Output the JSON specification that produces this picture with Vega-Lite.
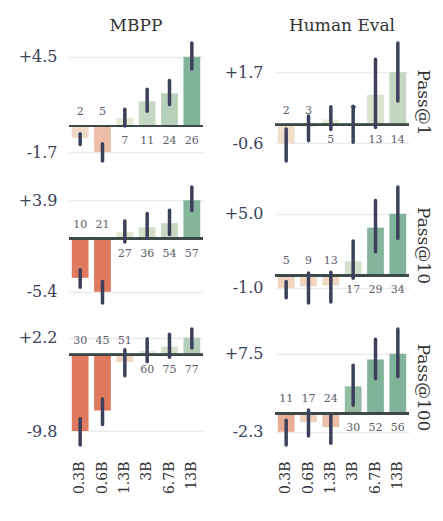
{
  "$schema": "https://vega.github.io/schema/vega-lite/v6.json",
  "background": "white",
  "padding": {"left": 18, "top": 17, "right": 8, "bottom": 10},
  "config": {
    "font": "DejaVu Serif",
    "view": {"stroke": null},
    "title": {"font": "DejaVu Serif", "fontSize": 17, "fontWeight": "normal", "color": "#333333", "offset": 6},
    "axisY": {
      "domain": false, "ticks": false, "grid": true, "gridColor": "#ebebeb", "gridWidth": 1.3,
      "labelFont": "DejaVu Serif", "labelFontSize": 16, "labelColor": "#3d405b", "labelPadding": 12,
      "titleFont": "DejaVu Serif", "titleFontSize": 17, "titleFontWeight": "normal", "titleColor": "#333333",
      "labelExpr": "datum.value > 0 ? '+' + format(datum.value, '.1f') : '-' + format(abs(datum.value), '.1f')"
    },
    "axisX": {
      "domain": false, "ticks": false, "grid": false,
      "labelFont": "DejaVu Serif", "labelAngle": -90, "labelFontSize": 14, "labelColor": "#333333", "labelPadding": 16
    }
  },
  "data": {
    "values": [
      {"b": "MBPP", "k": "Pass@1", "s": "0.3B", "v": -0.77, "lo": -1.2, "hi": -0.51, "n": 2},
      {"b": "MBPP", "k": "Pass@1", "s": "0.6B", "v": -1.7, "lo": -2.28, "hi": -1.16, "n": 5},
      {"b": "MBPP", "k": "Pass@1", "s": "1.3B", "v": 0.51, "lo": 0.0, "hi": 1.08, "n": 7},
      {"b": "MBPP", "k": "Pass@1", "s": "3B", "v": 1.6, "lo": 0.95, "hi": 2.38, "n": 11},
      {"b": "MBPP", "k": "Pass@1", "s": "6.7B", "v": 2.12, "lo": 1.4, "hi": 2.96, "n": 24},
      {"b": "MBPP", "k": "Pass@1", "s": "13B", "v": 4.5, "lo": 3.7, "hi": 5.39, "n": 26},
      {"b": "MBPP", "k": "Pass@10", "s": "0.3B", "v": -3.99, "lo": -4.96, "hi": -3.18, "n": 10},
      {"b": "MBPP", "k": "Pass@10", "s": "0.6B", "v": -5.4, "lo": -6.55, "hi": -4.36, "n": 21},
      {"b": "MBPP", "k": "Pass@10", "s": "1.3B", "v": 0.66, "lo": -0.35, "hi": 1.78, "n": 27},
      {"b": "MBPP", "k": "Pass@10", "s": "3B", "v": 1.17, "lo": 0.02, "hi": 2.55, "n": 36},
      {"b": "MBPP", "k": "Pass@10", "s": "6.7B", "v": 1.57, "lo": 0.43, "hi": 2.89, "n": 54},
      {"b": "MBPP", "k": "Pass@10", "s": "13B", "v": 3.9, "lo": 2.85, "hi": 5.25, "n": 57},
      {"b": "MBPP", "k": "Pass@100", "s": "0.3B", "v": -9.8, "lo": -11.59, "hi": -8.23, "n": 30},
      {"b": "MBPP", "k": "Pass@100", "s": "0.6B", "v": -7.16, "lo": -8.95, "hi": -5.67, "n": 45},
      {"b": "MBPP", "k": "Pass@100", "s": "1.3B", "v": -0.91, "lo": -2.69, "hi": 0.63, "n": 51},
      {"b": "MBPP", "k": "Pass@100", "s": "3B", "v": 0.5, "lo": -0.91, "hi": 2.07, "n": 60},
      {"b": "MBPP", "k": "Pass@100", "s": "6.7B", "v": 1.05, "lo": -0.31, "hi": 2.63, "n": 75},
      {"b": "MBPP", "k": "Pass@100", "s": "13B", "v": 2.2, "lo": 0.88, "hi": 3.31, "n": 77},
      {"b": "HE", "k": "Pass@1", "s": "0.3B", "v": -0.6, "lo": -1.18, "hi": -0.14, "n": 2},
      {"b": "HE", "k": "Pass@1", "s": "0.6B", "v": -0.09, "lo": -0.52, "hi": 0.28, "n": 3},
      {"b": "HE", "k": "Pass@1", "s": "1.3B", "v": 0.17, "lo": -0.16, "hi": 0.58, "n": 5},
      {"b": "HE", "k": "Pass@1", "s": "3B", "v": -0.02, "lo": -0.57, "hi": 0.6, "n": 7},
      {"b": "HE", "k": "Pass@1", "s": "6.7B", "v": 0.97, "lo": -0.09, "hi": 2.12, "n": 13},
      {"b": "HE", "k": "Pass@1", "s": "13B", "v": 1.7, "lo": 0.77, "hi": 2.65, "n": 14},
      {"b": "HE", "k": "Pass@10", "s": "0.3B", "v": -1.0, "lo": -1.8, "hi": -0.49, "n": 5},
      {"b": "HE", "k": "Pass@10", "s": "0.6B", "v": -0.87, "lo": -2.23, "hi": 0.21, "n": 9},
      {"b": "HE", "k": "Pass@10", "s": "1.3B", "v": -0.81, "lo": -2.15, "hi": 0.26, "n": 13},
      {"b": "HE", "k": "Pass@10", "s": "3B", "v": 1.14, "lo": -0.22, "hi": 2.8, "n": 17},
      {"b": "HE", "k": "Pass@10", "s": "6.7B", "v": 3.88, "lo": 1.92, "hi": 6.07, "n": 29},
      {"b": "HE", "k": "Pass@10", "s": "13B", "v": 5.0, "lo": 2.99, "hi": 7.17, "n": 34},
      {"b": "HE", "k": "Pass@100", "s": "0.3B", "v": -2.3, "lo": -3.97, "hi": -0.84, "n": 11},
      {"b": "HE", "k": "Pass@100", "s": "0.6B", "v": -1.09, "lo": -2.84, "hi": 0.45, "n": 17},
      {"b": "HE", "k": "Pass@100", "s": "1.3B", "v": -1.72, "lo": -3.76, "hi": -0.22, "n": 24},
      {"b": "HE", "k": "Pass@100", "s": "3B", "v": 3.41, "lo": 1.03, "hi": 6.08, "n": 30},
      {"b": "HE", "k": "Pass@100", "s": "6.7B", "v": 6.79, "lo": 4.37, "hi": 9.33, "n": 52},
      {"b": "HE", "k": "Pass@100", "s": "13B", "v": 7.5, "lo": 4.66, "hi": 10.63, "n": 56}
    ]
  },
  "spacing": 22,
  "vconcat": [
    {
      "spacing": 20,
      "resolve": {"scale": {"y": "independent", "x": "independent"}},
      "hconcat": [
        {
          "title": "MBPP", "width": 134, "height": 118,
          "transform": [{"filter": "datum.b == 'MBPP' && datum.k == 'Pass@1'"}],
          "layer": [
            {"mark": "bar", "encoding": {
              "x": {"field": "s", "type": "nominal", "sort": ["0.3B", "0.6B", "1.3B", "3B", "6.7B", "13B"], "scale": {"paddingInner": 0.25, "paddingOuter": 0.125}, "axis": null},
              "y": {"field": "v", "type": "quantitative", "title": null, "scale": {"nice": false, "zero": true}, "axis": {"values": [-1.7, 4.5]}},
              "color": {"field": "v", "type": "quantitative", "scale": {"domain": [-4, 0, 4], "range": ["#e07a5f", "#f4f1de", "#81b29a"], "interpolate": "rgb", "clamp": true}, "legend": null}}},
            {"transform": [{"filter": "datum.v >= 0"}], "mark": {"type": "text", "baseline": "top", "dy": 9, "fontSize": 11, "color": "#5c5c6a"}, "encoding": {
              "x": {"field": "s", "type": "nominal", "sort": ["0.3B", "0.6B", "1.3B", "3B", "6.7B", "13B"]},
              "y": {"datum": 0, "type": "quantitative", "title": null}, "text": {"field": "n"}}},
            {"transform": [{"filter": "datum.v < 0"}], "mark": {"type": "text", "baseline": "bottom", "dy": -9, "fontSize": 11, "color": "#5c5c6a"}, "encoding": {
              "x": {"field": "s", "type": "nominal", "sort": ["0.3B", "0.6B", "1.3B", "3B", "6.7B", "13B"]},
              "y": {"datum": 0, "type": "quantitative", "title": null}, "text": {"field": "n"}}},
            {"mark": {"type": "rule", "color": "#3d4848", "strokeWidth": 2}, "encoding": {"y": {"datum": 0, "type": "quantitative", "title": null}}},
            {"mark": {"type": "rule", "color": "#3d405b", "strokeWidth": 3.5, "strokeCap": "round"}, "encoding": {
              "x": {"field": "s", "type": "nominal", "sort": ["0.3B", "0.6B", "1.3B", "3B", "6.7B", "13B"]},
              "y": {"field": "lo", "type": "quantitative", "title": null}, "y2": {"field": "hi"}}}
          ]
        },
        {
          "title": "Human Eval", "width": 134, "height": 118,
          "transform": [{"filter": "datum.b == 'HE' && datum.k == 'Pass@1'"}],
          "resolve": {"axis": {"y": "independent"}},
          "layer": [
            {"mark": "bar", "encoding": {
              "x": {"field": "s", "type": "nominal", "sort": ["0.3B", "0.6B", "1.3B", "3B", "6.7B", "13B"], "scale": {"paddingInner": 0.25, "paddingOuter": 0.125}, "axis": null},
              "y": {"field": "v", "type": "quantitative", "title": null, "scale": {"nice": false, "zero": true}, "axis": {"values": [-0.6, 1.7]}},
              "color": {"field": "v", "type": "quantitative", "scale": {"domain": [-4, 0, 4], "range": ["#e07a5f", "#f4f1de", "#81b29a"], "interpolate": "rgb", "clamp": true}, "legend": null}}},
            {"transform": [{"filter": "datum.v >= 0"}], "mark": {"type": "text", "baseline": "top", "dy": 9, "fontSize": 11, "color": "#5c5c6a"}, "encoding": {
              "x": {"field": "s", "type": "nominal", "sort": ["0.3B", "0.6B", "1.3B", "3B", "6.7B", "13B"]},
              "y": {"datum": 0, "type": "quantitative", "axis": null}, "text": {"field": "n"}}},
            {"transform": [{"filter": "datum.v < 0"}], "mark": {"type": "text", "baseline": "bottom", "dy": -9, "fontSize": 11, "color": "#5c5c6a"}, "encoding": {
              "x": {"field": "s", "type": "nominal", "sort": ["0.3B", "0.6B", "1.3B", "3B", "6.7B", "13B"]},
              "y": {"datum": 0, "type": "quantitative", "axis": null}, "text": {"field": "n"}}},
            {"mark": {"type": "rule", "color": "#3d4848", "strokeWidth": 2}, "encoding": {"y": {"datum": 0, "type": "quantitative", "axis": null}}},
            {"mark": {"type": "rule", "color": "#3d405b", "strokeWidth": 3.5, "strokeCap": "round"}, "encoding": {
              "x": {"field": "s", "type": "nominal", "sort": ["0.3B", "0.6B", "1.3B", "3B", "6.7B", "13B"]},
              "y": {"field": "lo", "type": "quantitative", "title": "Pass@1", "axis": {"orient": "right", "labels": false, "grid": false, "titlePadding": 4}}, "y2": {"field": "hi"}}}
          ]
        }
      ]
    },
    {
      "spacing": 20,
      "resolve": {"scale": {"y": "independent", "x": "independent"}},
      "hconcat": [
        {
          "width": 134, "height": 116,
          "transform": [{"filter": "datum.b == 'MBPP' && datum.k == 'Pass@10'"}],
          "layer": [
            {"mark": "bar", "encoding": {
              "x": {"field": "s", "type": "nominal", "sort": ["0.3B", "0.6B", "1.3B", "3B", "6.7B", "13B"], "scale": {"paddingInner": 0.25, "paddingOuter": 0.125}, "axis": null},
              "y": {"field": "v", "type": "quantitative", "title": null, "scale": {"nice": false, "zero": true}, "axis": {"values": [-5.4, 3.9]}},
              "color": {"field": "v", "type": "quantitative", "scale": {"domain": [-4, 0, 4], "range": ["#e07a5f", "#f4f1de", "#81b29a"], "interpolate": "rgb", "clamp": true}, "legend": null}}},
            {"transform": [{"filter": "datum.v >= 0"}], "mark": {"type": "text", "baseline": "top", "dy": 9, "fontSize": 11, "color": "#5c5c6a"}, "encoding": {
              "x": {"field": "s", "type": "nominal", "sort": ["0.3B", "0.6B", "1.3B", "3B", "6.7B", "13B"]},
              "y": {"datum": 0, "type": "quantitative", "title": null}, "text": {"field": "n"}}},
            {"transform": [{"filter": "datum.v < 0"}], "mark": {"type": "text", "baseline": "bottom", "dy": -9, "fontSize": 11, "color": "#5c5c6a"}, "encoding": {
              "x": {"field": "s", "type": "nominal", "sort": ["0.3B", "0.6B", "1.3B", "3B", "6.7B", "13B"]},
              "y": {"datum": 0, "type": "quantitative", "title": null}, "text": {"field": "n"}}},
            {"mark": {"type": "rule", "color": "#3d4848", "strokeWidth": 2}, "encoding": {"y": {"datum": 0, "type": "quantitative", "title": null}}},
            {"mark": {"type": "rule", "color": "#3d405b", "strokeWidth": 3.5, "strokeCap": "round"}, "encoding": {
              "x": {"field": "s", "type": "nominal", "sort": ["0.3B", "0.6B", "1.3B", "3B", "6.7B", "13B"]},
              "y": {"field": "lo", "type": "quantitative", "title": null}, "y2": {"field": "hi"}}}
          ]
        },
        {
          "width": 134, "height": 116,
          "transform": [{"filter": "datum.b == 'HE' && datum.k == 'Pass@10'"}],
          "resolve": {"axis": {"y": "independent"}},
          "layer": [
            {"mark": "bar", "encoding": {
              "x": {"field": "s", "type": "nominal", "sort": ["0.3B", "0.6B", "1.3B", "3B", "6.7B", "13B"], "scale": {"paddingInner": 0.25, "paddingOuter": 0.125}, "axis": null},
              "y": {"field": "v", "type": "quantitative", "title": null, "scale": {"nice": false, "zero": true}, "axis": {"values": [-1.0, 5.0]}},
              "color": {"field": "v", "type": "quantitative", "scale": {"domain": [-4, 0, 4], "range": ["#e07a5f", "#f4f1de", "#81b29a"], "interpolate": "rgb", "clamp": true}, "legend": null}}},
            {"transform": [{"filter": "datum.v >= 0"}], "mark": {"type": "text", "baseline": "top", "dy": 9, "fontSize": 11, "color": "#5c5c6a"}, "encoding": {
              "x": {"field": "s", "type": "nominal", "sort": ["0.3B", "0.6B", "1.3B", "3B", "6.7B", "13B"]},
              "y": {"datum": 0, "type": "quantitative", "axis": null}, "text": {"field": "n"}}},
            {"transform": [{"filter": "datum.v < 0"}], "mark": {"type": "text", "baseline": "bottom", "dy": -9, "fontSize": 11, "color": "#5c5c6a"}, "encoding": {
              "x": {"field": "s", "type": "nominal", "sort": ["0.3B", "0.6B", "1.3B", "3B", "6.7B", "13B"]},
              "y": {"datum": 0, "type": "quantitative", "axis": null}, "text": {"field": "n"}}},
            {"mark": {"type": "rule", "color": "#3d4848", "strokeWidth": 2}, "encoding": {"y": {"datum": 0, "type": "quantitative", "axis": null}}},
            {"mark": {"type": "rule", "color": "#3d405b", "strokeWidth": 3.5, "strokeCap": "round"}, "encoding": {
              "x": {"field": "s", "type": "nominal", "sort": ["0.3B", "0.6B", "1.3B", "3B", "6.7B", "13B"]},
              "y": {"field": "lo", "type": "quantitative", "title": "Pass@10", "axis": {"orient": "right", "labels": false, "grid": false, "titlePadding": 4}}, "y2": {"field": "hi"}}}
          ]
        }
      ]
    },
    {
      "spacing": 20,
      "resolve": {"scale": {"y": "independent", "x": "independent"}},
      "hconcat": [
        {
          "width": 134, "height": 116,
          "transform": [{"filter": "datum.b == 'MBPP' && datum.k == 'Pass@100'"}],
          "layer": [
            {"mark": "bar", "encoding": {
              "x": {"field": "s", "type": "nominal", "title": null, "sort": ["0.3B", "0.6B", "1.3B", "3B", "6.7B", "13B"], "scale": {"paddingInner": 0.25, "paddingOuter": 0.125}},
              "y": {"field": "v", "type": "quantitative", "title": null, "scale": {"nice": false, "zero": true}, "axis": {"values": [-9.8, 2.2]}},
              "color": {"field": "v", "type": "quantitative", "scale": {"domain": [-4, 0, 4], "range": ["#e07a5f", "#f4f1de", "#81b29a"], "interpolate": "rgb", "clamp": true}, "legend": null}}},
            {"transform": [{"filter": "datum.v >= 0"}], "mark": {"type": "text", "baseline": "top", "dy": 9, "fontSize": 11, "color": "#5c5c6a"}, "encoding": {
              "x": {"field": "s", "type": "nominal", "title": null, "sort": ["0.3B", "0.6B", "1.3B", "3B", "6.7B", "13B"]},
              "y": {"datum": 0, "type": "quantitative", "title": null}, "text": {"field": "n"}}},
            {"transform": [{"filter": "datum.v < 0"}], "mark": {"type": "text", "baseline": "bottom", "dy": -9, "fontSize": 11, "color": "#5c5c6a"}, "encoding": {
              "x": {"field": "s", "type": "nominal", "title": null, "sort": ["0.3B", "0.6B", "1.3B", "3B", "6.7B", "13B"]},
              "y": {"datum": 0, "type": "quantitative", "title": null}, "text": {"field": "n"}}},
            {"mark": {"type": "rule", "color": "#3d4848", "strokeWidth": 2}, "encoding": {"y": {"datum": 0, "type": "quantitative", "title": null}}},
            {"mark": {"type": "rule", "color": "#3d405b", "strokeWidth": 3.5, "strokeCap": "round"}, "encoding": {
              "x": {"field": "s", "type": "nominal", "title": null, "sort": ["0.3B", "0.6B", "1.3B", "3B", "6.7B", "13B"]},
              "y": {"field": "lo", "type": "quantitative", "title": null}, "y2": {"field": "hi"}}}
          ]
        },
        {
          "width": 134, "height": 116,
          "transform": [{"filter": "datum.b == 'HE' && datum.k == 'Pass@100'"}],
          "resolve": {"axis": {"y": "independent"}},
          "layer": [
            {"mark": "bar", "encoding": {
              "x": {"field": "s", "type": "nominal", "title": null, "sort": ["0.3B", "0.6B", "1.3B", "3B", "6.7B", "13B"], "scale": {"paddingInner": 0.25, "paddingOuter": 0.125}},
              "y": {"field": "v", "type": "quantitative", "title": null, "scale": {"nice": false, "zero": true}, "axis": {"values": [-2.3, 7.5]}},
              "color": {"field": "v", "type": "quantitative", "scale": {"domain": [-4, 0, 4], "range": ["#e07a5f", "#f4f1de", "#81b29a"], "interpolate": "rgb", "clamp": true}, "legend": null}}},
            {"transform": [{"filter": "datum.v >= 0"}], "mark": {"type": "text", "baseline": "top", "dy": 9, "fontSize": 11, "color": "#5c5c6a"}, "encoding": {
              "x": {"field": "s", "type": "nominal", "title": null, "sort": ["0.3B", "0.6B", "1.3B", "3B", "6.7B", "13B"]},
              "y": {"datum": 0, "type": "quantitative", "axis": null}, "text": {"field": "n"}}},
            {"transform": [{"filter": "datum.v < 0"}], "mark": {"type": "text", "baseline": "bottom", "dy": -9, "fontSize": 11, "color": "#5c5c6a"}, "encoding": {
              "x": {"field": "s", "type": "nominal", "title": null, "sort": ["0.3B", "0.6B", "1.3B", "3B", "6.7B", "13B"]},
              "y": {"datum": 0, "type": "quantitative", "axis": null}, "text": {"field": "n"}}},
            {"mark": {"type": "rule", "color": "#3d4848", "strokeWidth": 2}, "encoding": {"y": {"datum": 0, "type": "quantitative", "axis": null}}},
            {"mark": {"type": "rule", "color": "#3d405b", "strokeWidth": 3.5, "strokeCap": "round"}, "encoding": {
              "x": {"field": "s", "type": "nominal", "title": null, "sort": ["0.3B", "0.6B", "1.3B", "3B", "6.7B", "13B"]},
              "y": {"field": "lo", "type": "quantitative", "title": "Pass@100", "axis": {"orient": "right", "labels": false, "grid": false, "titlePadding": 4}}, "y2": {"field": "hi"}}}
          ]
        }
      ]
    }
  ]
}
